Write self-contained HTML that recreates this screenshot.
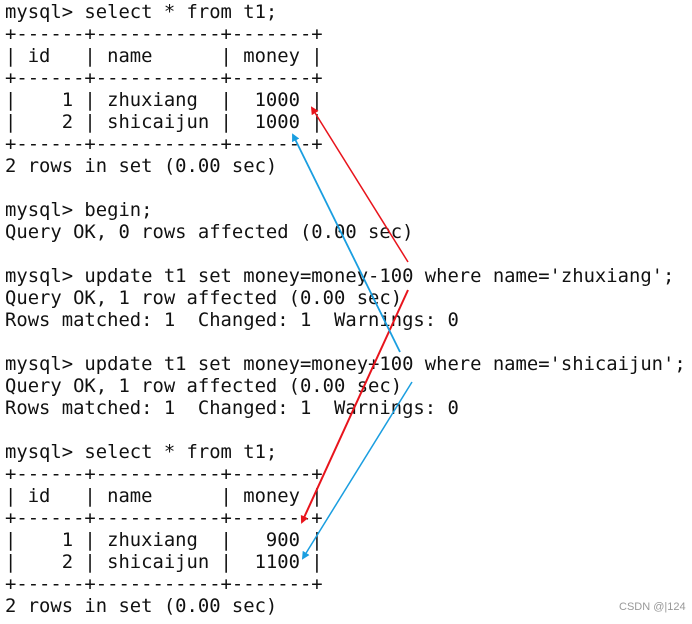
<!DOCTYPE html><html><head><style>
body{margin:0;width:692px;height:624px;background:#fff;overflow:hidden;position:relative}
pre{position:absolute;left:5px;top:2px;margin:0;font-family:"DejaVu Sans Mono","Liberation Mono",monospace;font-size:18.85px;line-height:22px;color:#111}
.wm{position:absolute;left:619px;top:601px;font:11px "Liberation Sans",sans-serif;color:#999}
svg{position:absolute;left:0;top:0}
</style></head><body>
<pre>mysql&gt; select * from t1;
+------+-----------+-------+
| id   | name      | money |
+------+-----------+-------+
|    1 | zhuxiang  |  1000 |
|    2 | shicaijun |  1000 |
+------+-----------+-------+
2 rows in set (0.00 sec)

mysql&gt; begin;
Query OK, 0 rows affected (0.00 sec)

mysql&gt; update t1 set money=money-100 where name='zhuxiang';
Query OK, 1 row affected (0.00 sec)
Rows matched: 1  Changed: 1  Warnings: 0

mysql&gt; update t1 set money=money+100 where name='shicaijun';
Query OK, 1 row affected (0.00 sec)
Rows matched: 1  Changed: 1  Warnings: 0

mysql&gt; select * from t1;
+------+-----------+-------+
| id   | name      | money |
+------+-----------+-------+
|    1 | zhuxiang  |   900 |
|    2 | shicaijun |  1100 |
+------+-----------+-------+
2 rows in set (0.00 sec)</pre>
<svg width="692" height="624">
<defs>
<marker id="r" markerWidth="8" markerHeight="8" refX="6" refY="4" orient="auto" markerUnits="userSpaceOnUse"><path d="M0,0L8,4L0,8z" fill="#e8141c"/></marker>
<marker id="b" markerWidth="8" markerHeight="8" refX="6" refY="4" orient="auto" markerUnits="userSpaceOnUse"><path d="M0,0L8,4L0,8z" fill="#1a9ee0"/></marker>
</defs>
<line x1="408" y1="262" x2="312" y2="108" stroke="#e8141c" stroke-width="1.5" marker-end="url(#r)"/>
<line x1="408" y1="290" x2="302" y2="522" stroke="#e8141c" stroke-width="2" marker-end="url(#r)"/>
<line x1="400" y1="352" x2="293" y2="135" stroke="#1a9ee0" stroke-width="1.8" marker-end="url(#b)"/>
<line x1="412" y1="382" x2="303" y2="558" stroke="#1a9ee0" stroke-width="1.5" marker-end="url(#b)"/>
</svg>
<div class="wm">CSDN @|124</div>
</body></html>
